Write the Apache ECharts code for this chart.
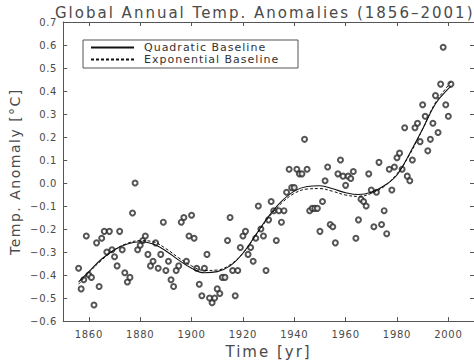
<!DOCTYPE html>
<html>
<head>
<meta charset="utf-8">
<script src="https://cdn.jsdelivr.net/npm/echarts@6/dist/echarts.min.js"></script>
<style>
  html, body { margin: 0; padding: 0; background: #fff; }
  #chart { width: 474px; height: 364px; }
</style>
</head>
<body>
<div id="chart"></div>
<script>
// annual anomalies, one value per year from 1856
const startYear = 1856
const anomalies = [
  -0.37, -0.46, -0.42, -0.23, -0.40, -0.41, -0.53, -0.26, -0.45, -0.24, // 1856-1865
  -0.21, -0.30, -0.21, -0.29, -0.32, -0.36, -0.21, -0.29, -0.39, -0.43, // 1866-1875
  -0.41, -0.13, 0.00, -0.29, -0.27, -0.25, -0.23, -0.31, -0.36, -0.34,  // 1876-1885
  -0.26, -0.37, -0.31, -0.17, -0.38, -0.34, -0.42, -0.45, -0.38, -0.36, // 1886-1895
  -0.17, -0.15, -0.34, -0.23, -0.14, -0.24, -0.37, -0.44, -0.49, -0.37, // 1896-1905
  -0.31, -0.50, -0.52, -0.50, -0.46, -0.48, -0.41, -0.41, -0.25, -0.15, // 1906-1915
  -0.38, -0.49, -0.38, -0.28, -0.23, -0.21, -0.31, -0.28, -0.34, -0.24, // 1916-1925
  -0.10, -0.20, -0.23, -0.38, -0.16, -0.08, -0.12, -0.25, -0.12, -0.17, // 1926-1935
  -0.12, -0.04, 0.06, -0.02, -0.02, 0.06, 0.04, 0.04, 0.19, 0.06,       // 1936-1945
  -0.12, -0.11, -0.11, -0.11, -0.21, -0.08, 0.01, 0.07, -0.18, -0.19,   // 1946-1955
  -0.26, 0.04, 0.10, 0.03, -0.01, 0.03, 0.02, 0.05, -0.24, -0.16,       // 1956-1965
  -0.07, -0.08, -0.10, 0.04, -0.03, -0.19, -0.04, 0.09, -0.18, -0.12,   // 1966-1975
  -0.22, 0.06, -0.03, 0.07, 0.11, 0.13, 0.06, 0.24, 0.03, 0.01,         // 1976-1985
  0.10, 0.24, 0.26, 0.18, 0.34, 0.29, 0.14, 0.19, 0.26, 0.38,           // 1986-1995
  0.22, 0.43, 0.59, 0.34, 0.29, 0.43                                    // 1996-2001
]

// baselines
const baseYears = [1856, 1860, 1865, 1870, 1875, 1880, 1885, 1890, 1895, 1900, 1905, 1910, 1915, 1920, 1925,
  1930, 1935, 1940, 1945, 1950, 1955, 1960, 1965, 1970, 1975, 1980, 1985, 1990, 1995, 2000, 2001]
const quadBase = [-0.43, -0.385, -0.33, -0.29, -0.265, -0.255, -0.265, -0.295, -0.335, -0.37, -0.39, -0.385, -0.36, -0.305, -0.225,
  -0.145, -0.08, -0.035, -0.015, -0.012, -0.025, -0.042, -0.05, -0.04, -0.012, 0.035, 0.13, 0.235, 0.345, 0.41, 0.42]
const expBase = [-0.44, -0.39, -0.335, -0.29, -0.262, -0.25, -0.255, -0.285, -0.325, -0.36, -0.38, -0.378, -0.355, -0.305, -0.228,
  -0.15, -0.088, -0.045, -0.026, -0.024, -0.036, -0.052, -0.058, -0.045, -0.015, 0.04, 0.125, 0.235, 0.35, 0.425, 0.44]

const xTickYears = [1860, 1880, 1900, 1920, 1940, 1960, 1980, 2000]

const textColor = '#4a4a4a'
const frameColor = '#555'
const fontFamily = 'DejaVu Sans'

const chart = echarts.init(document.getElementById('chart'), null, { renderer: 'svg' })

const points = anomalies.map((v, i) => [startYear + i, v])
const quadLine = baseYears.map((y, i) => [y, quadBase[i]])
const expLine = baseYears.map((y, i) => [y, expBase[i]])

function fmtY(v) {
  if (Math.abs(v) < 1e-9) return '0.0'
  return v.toFixed(1).replace('-', '\u2212')
}

const xCommon = {
  type: 'value',
  min: 1850,
  max: 2010,
  splitLine: { show: false },
  axisLine: { show: true, onZero: false, lineStyle: { color: frameColor, width: 1 } },
  axisTick: { show: true, inside: true, length: 4, customValues: xTickYears, lineStyle: { color: frameColor } }
}
const yCommon = {
  type: 'value',
  min: -0.6,
  max: 0.7,
  interval: 0.1,
  splitLine: { show: false },
  axisLine: { show: true, onZero: false, lineStyle: { color: frameColor, width: 1 } },
  axisTick: { show: true, inside: true, length: 4, lineStyle: { color: frameColor } }
}

chart.setOption({
  animation: false,
  backgroundColor: '#fff',
  title: {
    text: 'Global Annual Temp. Anomalies (1856\u20132001)',
    left: 50,
    top: 0,
    textStyle: { fontFamily: fontFamily, fontSize: 15, fontWeight: 'normal', color: textColor }
  },
  legend: {
    orient: 'vertical',
    left: 83,
    top: 40,
    itemWidth: 43,
    itemHeight: 10,
    itemGap: 1,
    padding: [2, 4, 3, 7],
    borderColor: frameColor,
    borderWidth: 1,
    backgroundColor: '#fff',
    selectedMode: false,
    itemStyle: { color: 'rgba(0,0,0,0)', borderColor: 'rgba(0,0,0,0)', borderWidth: 0 },
    data: ['Quadratic Baseline', 'Exponential Baseline'],
    textStyle: { fontFamily: fontFamily, fontSize: 11, color: '#333', width: 150, lineHeight: 11, padding: [0, 0, 0, 5] }
  },
  grid: { left: 56, right: 0, top: 22, bottom: 35 },
  xAxis: [
    Object.assign({}, xCommon, {
      position: 'bottom',
      name: 'Time [yr]',
      nameLocation: 'middle',
      nameGap: 22,
      nameTextStyle: { fontFamily: fontFamily, fontSize: 15, color: textColor },
      axisLabel: {
        customValues: xTickYears,
        formatter: v => String(v),
        color: textColor,
        fontFamily: fontFamily,
        fontSize: 10,
        margin: 8
      }
    }),
    Object.assign({}, xCommon, { position: 'top', axisLabel: { show: false } })
  ],
  yAxis: [
    Object.assign({}, yCommon, {
      position: 'left',
      name: 'Temp. Anomaly [\u00b0C]',
      nameLocation: 'middle',
      nameGap: 36,
      nameTextStyle: { fontFamily: fontFamily, fontSize: 14, color: textColor },
      axisLabel: { formatter: fmtY, color: textColor, fontFamily: fontFamily, fontSize: 10, margin: 6 }
    }),
    Object.assign({}, yCommon, { position: 'right', axisLabel: { show: false } })
  ],
  series: [
    {
      name: 'anomalies',
      type: 'scatter',
      data: points,
      symbol: 'emptyCircle',
      symbolSize: 5,
      itemStyle: { color: '#2a2a2a', borderWidth: 0.8 },
      z: 3
    },
    {
      name: 'Quadratic Baseline',
      type: 'line',
      data: quadLine,
      smooth: 0.4,
      symbol: 'none',
      color: '#111',
      lineStyle: { color: '#111', width: 1.1 },
      z: 4
    },
    {
      name: 'Exponential Baseline',
      type: 'line',
      data: expLine,
      smooth: 0.4,
      symbol: 'none',
      color: '#111',
      lineStyle: { color: '#111', width: 1, type: [3, 2] },
      z: 4
    }
  ]
})

// the original uses a wide, spaced plotter font
function spaceText() {
  document.querySelectorAll('#chart svg text').forEach(t => {
    const fs = parseFloat(getComputedStyle(t).fontSize) || 12
    let sp = '0.7px'
    if (fs >= 15) sp = '2px'
    else if (fs >= 14) sp = '1.5px'
    else if (fs >= 11) sp = '1px'
    t.style.letterSpacing = sp
  })
}
chart.on('finished', spaceText)
spaceText()
</script>
</body>
</html>
